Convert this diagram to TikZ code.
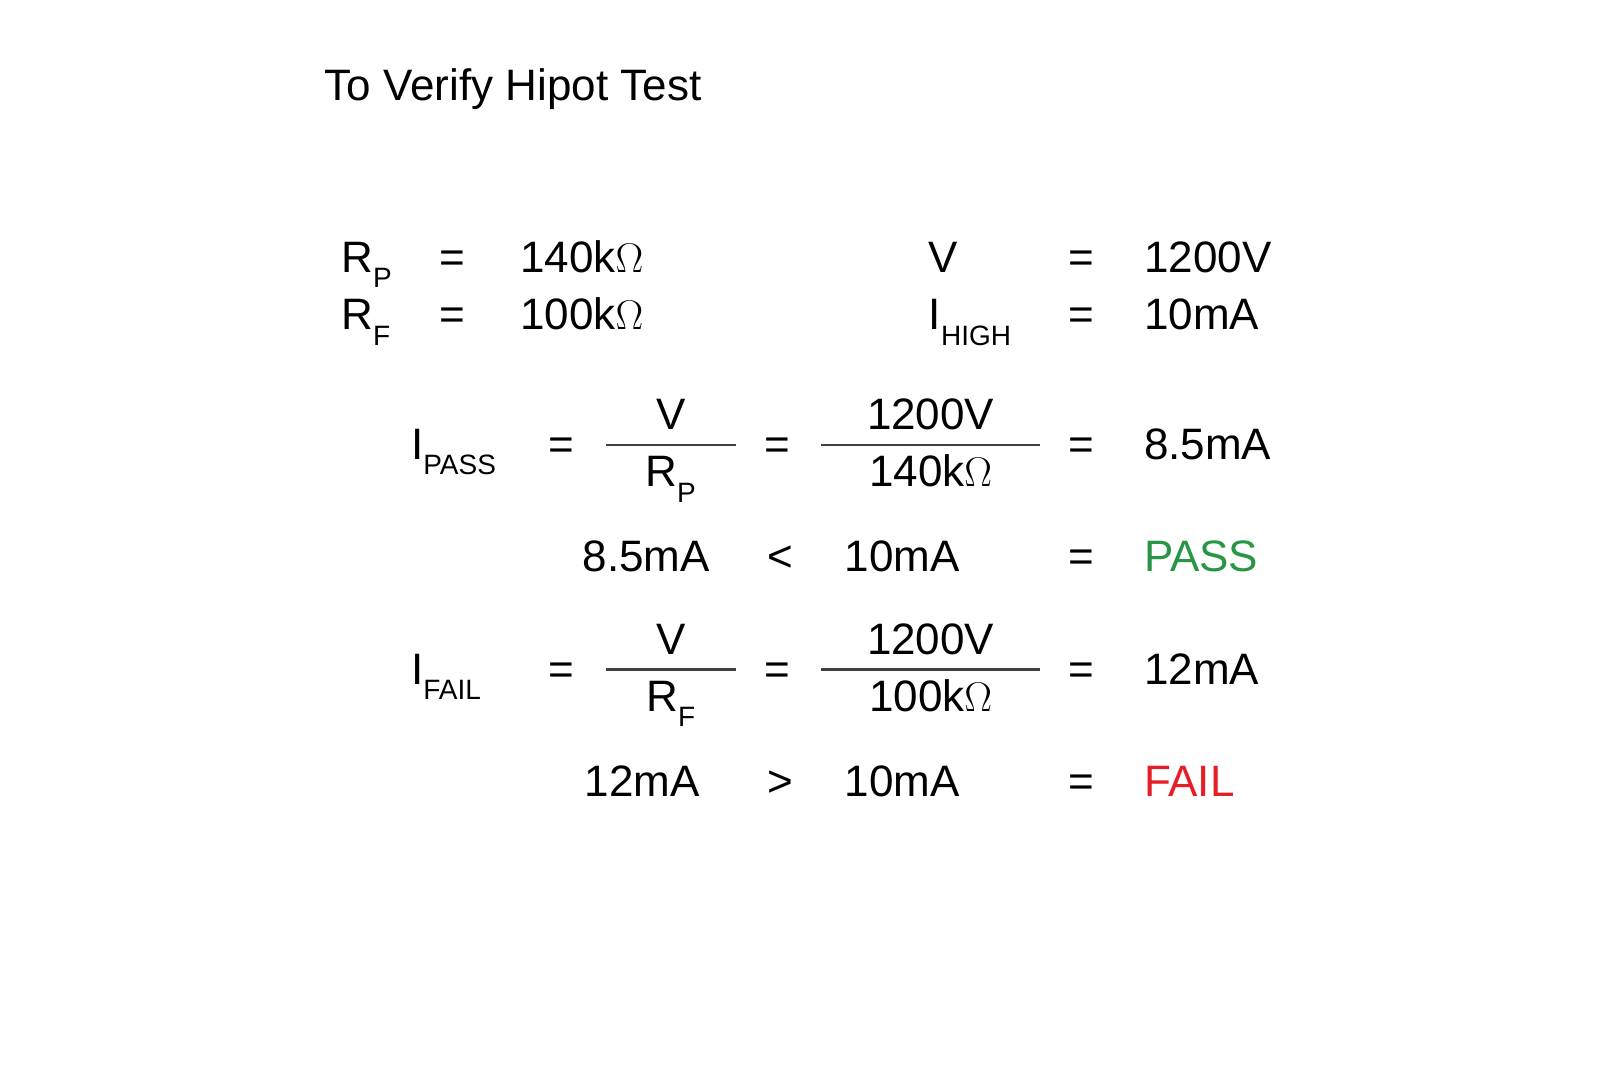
\documentclass[tikz,border=0pt]{standalone}
\usepackage{fontspec}
\setmainfont{Liberation Sans}
\definecolor{passg}{RGB}{40,150,70}
\definecolor{failr}{RGB}{230,30,40}
\begin{document}
\begin{tikzpicture}[x=0.52pt,y=-0.52pt,
  t/.style={inner sep=0pt,font=\fontsize{22}{26}\selectfont},
  tl/.style={t,anchor=base west},
  tc/.style={t,anchor=base},
  bar/.style={line width=1.2pt,draw=black!75}]
\useasboundingbox (0,0) rectangle (1558,1038);
\newcommand{\sbs}[1]{\raisebox{-0.35em}{\fontsize{14}{16}\selectfont #1}}
\node[tl] (title) at (312,97) {To Verify Hipot Test};
% definitions
\node[tl] (rp) at (328,262) {R\sbs{P}};
\node[tc] (e1) at (435,262) {=};
\node[tl] (rpv) at (500,262) {140k$\Omega$};
\node[tl] (rf) at (328,317) {R\sbs{F}};
\node[tc] (e2) at (435,317) {=};
\node[tl] (rfv) at (500,317) {100k$\Omega$};
\node[tc] (v) at (907,262) {V};
\node[tc] (e3) at (1040,262) {=};
\node[tl] (vv) at (1100,262) {1200V};
\node[tl] (ih) at (893,317) {I\sbs{HIGH}};
\node[tc] (e4) at (1040,317) {=};
\node[tl] (ihv) at (1100,317) {10mA};
% pass
\node[tl] (ip) at (395,442) {I\sbs{PASS}};
\node[tc] (e5) at (540,442) {=};
\node[tc] (n1) at (645,413) {V};
\node[tc] (d1) at (645,468) {R\sbs{P}};
\coordinate (b1a) at (583,428); \coordinate (b1b) at (708,428);
\draw[bar] (b1a) -- (b1b);
\node[tc] (e6) at (748,442) {=};
\node[tc] (n2) at (895,413) {1200V};
\node[tc] (d2) at (895,468) {140k$\Omega$};
\coordinate (b2a) at (790,428); \coordinate (b2b) at (1000,428);
\draw[bar] (b2a) -- (b2b);
\node[tc] (e7) at (1040,442) {=};
\node[tl] (pv) at (1100,442) {8.5mA};
\node[tl] (c1) at (560,550) {8.5mA};
\node[tc] (lt) at (750,550) {<};
\node[tl] (c2) at (812,550) {10mA};
\node[tc] (e8) at (1040,550) {=};
\node[tl,text=passg] (pass) at (1100,550) {PASS};
% fail
\node[tl] (if) at (395,658) {I\sbs{FAIL}};
\node[tc] (e9) at (540,658) {=};
\node[tc] (n3) at (645,629) {V};
\node[tc] (d3) at (645,684) {R\sbs{F}};
\coordinate (b3a) at (583,644); \coordinate (b3b) at (708,644);
\draw[bar] (b3a) -- (b3b);
\node[tc] (e10) at (748,658) {=};
\node[tc] (n4) at (895,629) {1200V};
\node[tc] (d4) at (895,684) {100k$\Omega$};
\coordinate (b4a) at (790,644); \coordinate (b4b) at (1000,644);
\draw[bar] (b4a) -- (b4b);
\node[tc] (e11) at (1040,658) {=};
\node[tl] (fv) at (1100,658) {12mA};
\node[tl] (c3) at (562,766) {12mA};
\node[tc] (gt) at (750,766) {>};
\node[tl] (c4) at (812,766) {10mA};
\node[tc] (e12) at (1040,766) {=};
\node[tl,text=failr] (fail) at (1100,766) {FAIL};
\end{tikzpicture}
\end{document}
